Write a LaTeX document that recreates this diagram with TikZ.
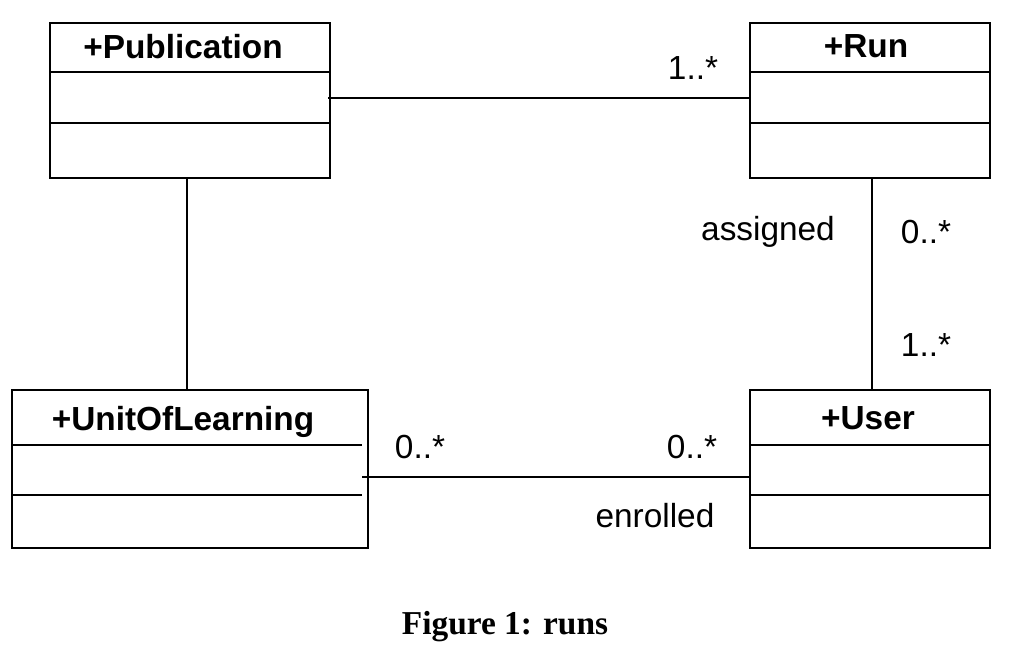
\documentclass[tikz,border=0pt]{standalone}
\usepackage{fontspec}
\setmainfont{Liberation Serif}
\newfontfamily\umlfont{Liberation Sans}
\usetikzlibrary{positioning}

\begin{document}
\begin{tikzpicture}[x=0.02cm, y=-0.02cm,
    cls/.style={rectangle, draw, line width=1.2pt, inner sep=0pt},
    ttl/.style={font=\umlfont\fontsize{19}{22}\selectfont\bfseries, inner sep=0pt, anchor=north},
    lbl/.style={font=\umlfont\fontsize{19}{22}\selectfont, inner sep=0pt},
    assoc/.style={line width=1.2pt}
]
\useasboundingbox (0,0) rectangle (1010,657);

% Classes
\node[cls, minimum width=5.6cm, minimum height=3.1cm] (pub) at (190,100.5) {};
\node[cls, minimum width=4.8cm, minimum height=3.1cm] (run) at (870,100.5) {};
\node[cls, minimum width=7.12cm, minimum height=3.16cm] (uol) at (190,469) {};
\node[cls, minimum width=4.8cm, minimum height=3.16cm] (user) at (870,469) {};

% Titles
\node[ttl] at (183,34) {+Publication};
\node[ttl] at (866,34) {+Run};
\node[ttl] at (183,406) {+UnitOfLearning};
\node[ttl] at (868,406) {+User};

% Compartments
\draw[assoc] (50,72) -- (330,72) (50,123) -- (330,123);
\draw[assoc] (750,72) -- (990,72) (750,123) -- (990,123);
\draw[assoc] (12,445) -- (362,445) (12,495) -- (362,495);
\draw[assoc] (750,445) -- (990,445) (750,495) -- (990,495);

% Associations
\coordinate (pubR) at (328,98);
\coordinate (uolR) at (362,477);
\draw[assoc] (pubR) -- (pubR -| run.west);
\draw[assoc] (187,178) -- (187,390);
\draw[assoc] (872,178) -- (872,390);
\draw[assoc] (uolR) -- (uolR -| user.west);

% Multiplicities
\node[lbl] at (693,68) {1..*};
\node[lbl] at (768,232) {assigned};
\node[lbl] at (926,232) {0..*};
\node[lbl] at (926,345) {1..*};
\node[lbl] at (420,447) {0..*};
\node[lbl] at (692,447) {0..*};
\node[lbl] at (655,516) {enrolled};

% Caption
\node[font=\fontsize{19}{22}\selectfont\bfseries] at (505,627) {Figure 1: runs};
\end{tikzpicture}
\end{document}
